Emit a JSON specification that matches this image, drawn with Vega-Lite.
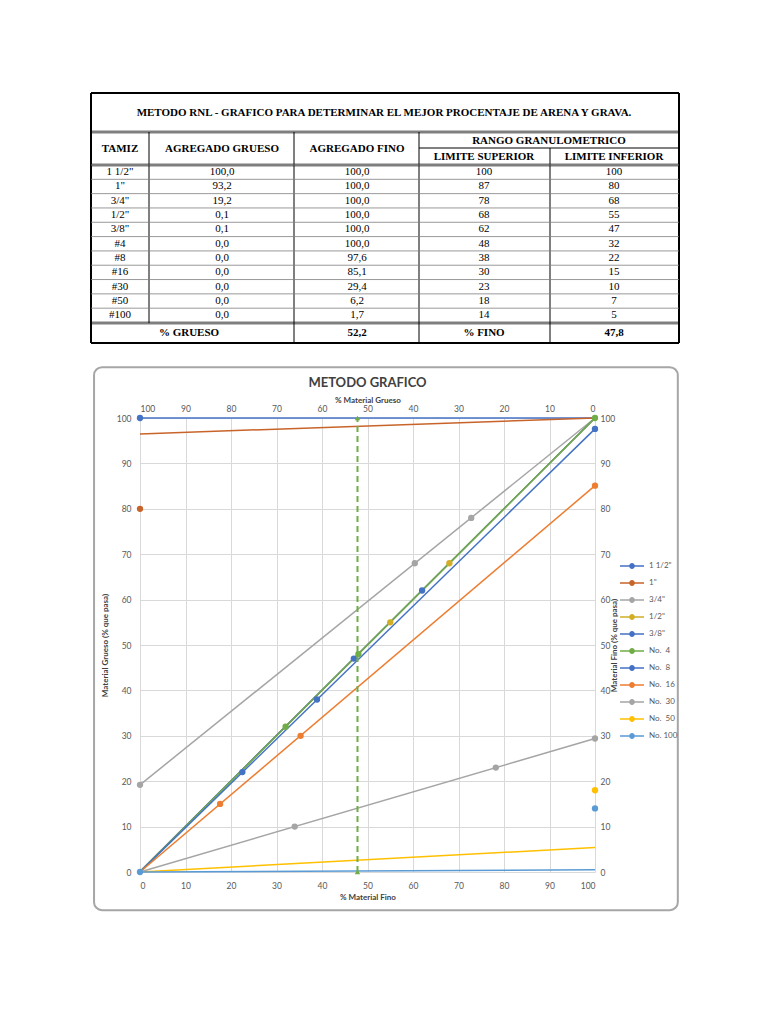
{
  "$schema": "https://vega.github.io/schema/vega-lite/v6.json",
  "background": "white",
  "padding": {"left": 89, "top": 92, "right": 5, "bottom": 5},
  "bounds": "flush",
  "spacing": 75,
  "datasets": {
    "tabla": [
      {"tamiz": "1 1/2\"", "grueso": 100.0, "fino": 100.0, "sup": 100, "inf": 100},
      {"tamiz": "1\"", "grueso": 93.2, "fino": 100.0, "sup": 87, "inf": 80},
      {"tamiz": "3/4\"", "grueso": 19.2, "fino": 100.0, "sup": 78, "inf": 68},
      {"tamiz": "1/2\"", "grueso": 0.1, "fino": 100.0, "sup": 68, "inf": 55},
      {"tamiz": "3/8\"", "grueso": 0.1, "fino": 100.0, "sup": 62, "inf": 47},
      {"tamiz": "#4", "grueso": 0.0, "fino": 100.0, "sup": 48, "inf": 32},
      {"tamiz": "#8", "grueso": 0.0, "fino": 97.6, "sup": 38, "inf": 22},
      {"tamiz": "#16", "grueso": 0.0, "fino": 85.1, "sup": 30, "inf": 15},
      {"tamiz": "#30", "grueso": 0.0, "fino": 29.4, "sup": 23, "inf": 10},
      {"tamiz": "#50", "grueso": 0.0, "fino": 6.2, "sup": 18, "inf": 7},
      {"tamiz": "#100", "grueso": 0.0, "fino": 1.7, "sup": 14, "inf": 5}
    ],
    "resultado": [{"grueso": 52.2, "fino": 47.8}],
    "rectas": [
      {"serie": "1 1/2\"", "fino": 0, "pasa": 100}, {"serie": "1 1/2\"", "fino": 100, "pasa": 100},
      {"serie": "1\"", "fino": 0, "pasa": 96.5}, {"serie": "1\"", "fino": 100, "pasa": 100},
      {"serie": "3/4\"", "fino": 0, "pasa": 19.2}, {"serie": "3/4\"", "fino": 100, "pasa": 100},
      {"serie": "1/2\"", "fino": 0, "pasa": 0.1}, {"serie": "1/2\"", "fino": 100, "pasa": 100},
      {"serie": "3/8\"", "fino": 0, "pasa": 0.1}, {"serie": "3/8\"", "fino": 100, "pasa": 100},
      {"serie": "No.\u00a0\u00a04", "fino": 0, "pasa": 0}, {"serie": "No.\u00a0\u00a04", "fino": 100, "pasa": 100},
      {"serie": "No.\u00a0\u00a08", "fino": 0, "pasa": 0}, {"serie": "No.\u00a0\u00a08", "fino": 100, "pasa": 97.6},
      {"serie": "No.\u00a0\u00a016", "fino": 0, "pasa": 0}, {"serie": "No.\u00a0\u00a016", "fino": 100, "pasa": 85.1},
      {"serie": "No.\u00a0\u00a030", "fino": 0, "pasa": 0}, {"serie": "No.\u00a0\u00a030", "fino": 100, "pasa": 29.4},
      {"serie": "No.\u00a0\u00a050", "fino": 0, "pasa": 0}, {"serie": "No.\u00a0\u00a050", "fino": 100, "pasa": 5.4},
      {"serie": "No.\u00a0100", "fino": 0, "pasa": 0}, {"serie": "No.\u00a0100", "fino": 100, "pasa": 0.5}
    ],
    "puntos": [
      {"serie": "1 1/2\"", "fino": 0, "pasa": 100},
      {"serie": "1\"", "fino": 0, "pasa": 80},
      {"serie": "3/4\"", "fino": 0, "pasa": 19.2},
      {"serie": "3/4\"", "fino": 72.8, "pasa": 78},
      {"serie": "3/4\"", "fino": 60.4, "pasa": 68},
      {"serie": "1/2\"", "fino": 68.0, "pasa": 68},
      {"serie": "1/2\"", "fino": 55.0, "pasa": 55},
      {"serie": "3/8\"", "fino": 62.0, "pasa": 62},
      {"serie": "3/8\"", "fino": 47.0, "pasa": 47},
      {"serie": "No.\u00a0\u00a04", "fino": 48, "pasa": 48},
      {"serie": "No.\u00a0\u00a04", "fino": 32, "pasa": 32},
      {"serie": "No.\u00a0\u00a04", "fino": 100, "pasa": 100},
      {"serie": "No.\u00a0\u00a08", "fino": 38.9, "pasa": 38},
      {"serie": "No.\u00a0\u00a08", "fino": 22.5, "pasa": 22},
      {"serie": "No.\u00a0\u00a08", "fino": 100, "pasa": 97.6},
      {"serie": "No.\u00a0\u00a016", "fino": 35.3, "pasa": 30},
      {"serie": "No.\u00a0\u00a016", "fino": 17.6, "pasa": 15},
      {"serie": "No.\u00a0\u00a016", "fino": 100, "pasa": 85.1},
      {"serie": "No.\u00a0\u00a030", "fino": 78.2, "pasa": 23},
      {"serie": "No.\u00a0\u00a030", "fino": 34.0, "pasa": 10},
      {"serie": "No.\u00a0\u00a030", "fino": 100, "pasa": 29.4},
      {"serie": "No.\u00a0\u00a050", "fino": 100, "pasa": 18},
      {"serie": "No.\u00a0100", "fino": 100, "pasa": 14},
      {"serie": "No.\u00a0100", "fino": 0, "pasa": 0}
    ]
  },
  "vconcat": [
    {
      "width": 455,
      "height": 250,
      "layer": [
        {
          "data": {"values": [{}]},
          "layer": [
            {"mark": {"type": "rule", "color": "#000000", "strokeWidth": 2},
             "encoding": {"x": {"datum": 0, "type": "quantitative", "scale": {"domain": [0, 588], "range": [-49, 539], "nice": false, "zero": false}, "axis": null},
                          "x2": {"datum": 588},
                          "y": {"datum": 0, "type": "quantitative", "scale": {"domain": [0, 250], "range": [0, 250], "nice": false, "zero": false}, "axis": null}}},
            {"mark": {"type": "rule", "color": "#7F7F7F", "strokeWidth": 3},
             "encoding": {"x": {"datum": 0}, "x2": {"datum": 588}, "y": {"datum": 39}}},
            {"mark": {"type": "rule", "color": "#000000", "strokeWidth": 1},
             "encoding": {"x": {"datum": 328}, "x2": {"datum": 588}, "y": {"datum": 55}}},
            {"mark": {"type": "rule", "color": "#7F7F7F", "strokeWidth": 3},
             "encoding": {"x": {"datum": 0}, "x2": {"datum": 588}, "y": {"datum": 72}}},
            {"mark": {"type": "rule", "color": "#7F7F7F", "strokeWidth": 3},
             "encoding": {"x": {"datum": 0}, "x2": {"datum": 588}, "y": {"datum": 230}}},
            {"mark": {"type": "rule", "color": "#000000", "strokeWidth": 2},
             "encoding": {"x": {"datum": 0}, "x2": {"datum": 588}, "y": {"datum": 250}}},
            {"mark": {"type": "rule", "color": "#000000", "strokeWidth": 2},
             "encoding": {"x": {"datum": 0}, "y": {"datum": 0}, "y2": {"datum": 250}}},
            {"mark": {"type": "rule", "color": "#000000", "strokeWidth": 2},
             "encoding": {"x": {"datum": 588}, "y": {"datum": 0}, "y2": {"datum": 250}}},
            {"mark": {"type": "rule", "color": "#000000", "strokeWidth": 1},
             "encoding": {"x": {"datum": 58}, "y": {"datum": 39}, "y2": {"datum": 230}}},
            {"mark": {"type": "rule", "color": "#000000", "strokeWidth": 1},
             "encoding": {"x": {"datum": 203}, "y": {"datum": 39}, "y2": {"datum": 250}}},
            {"mark": {"type": "rule", "color": "#000000", "strokeWidth": 1},
             "encoding": {"x": {"datum": 328}, "y": {"datum": 39}, "y2": {"datum": 250}}},
            {"mark": {"type": "rule", "color": "#000000", "strokeWidth": 1},
             "encoding": {"x": {"datum": 459}, "y": {"datum": 55}, "y2": {"datum": 250}}},
            {"mark": {"type": "text", "text": "METODO RNL - GRAFICO PARA DETERMINAR EL MEJOR PROCENTAJE DE ARENA Y GRAVA.", "font": "Liberation Serif", "fontWeight": "bold", "fontSize": 11, "baseline": "middle", "align": "center"},
             "encoding": {"x": {"datum": 293}, "y": {"datum": 20}}},
            {"mark": {"type": "text", "text": "TAMIZ", "font": "Liberation Serif", "fontWeight": "bold", "fontSize": 11, "baseline": "middle", "align": "center"},
             "encoding": {"x": {"datum": 29}, "y": {"datum": 56}}},
            {"mark": {"type": "text", "text": "AGREGADO GRUESO", "font": "Liberation Serif", "fontWeight": "bold", "fontSize": 11, "baseline": "middle", "align": "center"},
             "encoding": {"x": {"datum": 131}, "y": {"datum": 56}}},
            {"mark": {"type": "text", "text": "AGREGADO FINO", "font": "Liberation Serif", "fontWeight": "bold", "fontSize": 11, "baseline": "middle", "align": "center"},
             "encoding": {"x": {"datum": 266}, "y": {"datum": 56}}},
            {"mark": {"type": "text", "text": "RANGO GRANULOMETRICO", "font": "Liberation Serif", "fontWeight": "bold", "fontSize": 11, "baseline": "middle", "align": "center"},
             "encoding": {"x": {"datum": 458}, "y": {"datum": 48}}},
            {"mark": {"type": "text", "text": "LIMITE SUPERIOR", "font": "Liberation Serif", "fontWeight": "bold", "fontSize": 11, "baseline": "middle", "align": "center"},
             "encoding": {"x": {"datum": 393}, "y": {"datum": 64}}},
            {"mark": {"type": "text", "text": "LIMITE INFERIOR", "font": "Liberation Serif", "fontWeight": "bold", "fontSize": 11, "baseline": "middle", "align": "center"},
             "encoding": {"x": {"datum": 523}, "y": {"datum": 64}}},
            {"mark": {"type": "text", "text": "% GRUESO", "font": "Liberation Serif", "fontWeight": "bold", "fontSize": 11, "baseline": "middle", "align": "center"},
             "encoding": {"x": {"datum": 98}, "y": {"datum": 240}}},
            {"mark": {"type": "text", "text": "% FINO", "font": "Liberation Serif", "fontWeight": "bold", "fontSize": 11, "baseline": "middle", "align": "center"},
             "encoding": {"x": {"datum": 393}, "y": {"datum": 240}}},
            {"data": {"name": "resultado"},
             "mark": {"type": "text", "font": "Liberation Serif", "fontWeight": "bold", "fontSize": 11, "baseline": "middle", "align": "center"},
             "encoding": {"x": {"datum": 266}, "y": {"datum": 240}, "text": {"field": "grueso", "type": "quantitative", "format": ".1f"}}},
            {"data": {"name": "resultado"},
             "mark": {"type": "text", "font": "Liberation Serif", "fontWeight": "bold", "fontSize": 11, "baseline": "middle", "align": "center"},
             "encoding": {"x": {"datum": 523}, "y": {"datum": 240}, "text": {"field": "fino", "type": "quantitative", "format": ".1f"}}}
          ]
        },
        {
          "data": {"name": "tabla"},
          "encoding": {
            "y": {"field": "tamiz", "type": "ordinal", "axis": null,
                  "scale": {"type": "band", "domain": ["1 1/2\"", "1\"", "3/4\"", "1/2\"", "3/8\"", "#4", "#8", "#16", "#30", "#50", "#100"], "range": [72, 229.5], "paddingInner": 0, "paddingOuter": 0}}
          },
          "layer": [
            {"mark": {"type": "rule", "color": "#7F7F7F", "strokeWidth": 0.8},
             "encoding": {"y": {"field": "tamiz", "type": "ordinal", "bandPosition": 0}, "x": {"datum": 0}, "x2": {"datum": 588}}},
            {"mark": {"type": "text", "font": "Liberation Serif", "fontSize": 11, "baseline": "middle", "align": "center"},
             "encoding": {"y": {"field": "tamiz", "type": "ordinal", "bandPosition": 0.5}, "x": {"datum": 29}, "text": {"field": "tamiz"}}},
            {"mark": {"type": "text", "font": "Liberation Serif", "fontSize": 11, "baseline": "middle", "align": "center"},
             "encoding": {"y": {"field": "tamiz", "type": "ordinal", "bandPosition": 0.5}, "x": {"datum": 131}, "text": {"field": "grueso", "type": "quantitative", "format": ".1f"}}},
            {"mark": {"type": "text", "font": "Liberation Serif", "fontSize": 11, "baseline": "middle", "align": "center"},
             "encoding": {"y": {"field": "tamiz", "type": "ordinal", "bandPosition": 0.5}, "x": {"datum": 266}, "text": {"field": "fino", "type": "quantitative", "format": ".1f"}}},
            {"mark": {"type": "text", "font": "Liberation Serif", "fontSize": 11, "baseline": "middle", "align": "center"},
             "encoding": {"y": {"field": "tamiz", "type": "ordinal", "bandPosition": 0.5}, "x": {"datum": 393}, "text": {"field": "sup", "type": "quantitative", "format": "d"}}},
            {"mark": {"type": "text", "font": "Liberation Serif", "fontSize": 11, "baseline": "middle", "align": "center"},
             "encoding": {"y": {"field": "tamiz", "type": "ordinal", "bandPosition": 0.5}, "x": {"datum": 523}, "text": {"field": "inf", "type": "quantitative", "format": "d"}}}
          ]
        }
      ],
      "resolve": {"scale": {"y": "independent"}}
    },
    {
      "width": 455,
      "height": 454,
      "title": {"text": "METODO GRAFICO", "font": "Lato", "fontSize": 13, "fontWeight": "bold", "color": "#404040", "offset": -24, "anchor": "middle"},
      "layer": [
        {
          "layer": [
            {"data": {"values": [{}]},
             "mark": {"type": "rect", "filled": false, "stroke": "#A6A6A6", "strokeWidth": 2, "cornerRadius": 8, "clip": false},
             "encoding": {"x": {"datum": -10.1, "type": "quantitative"}, "x2": {"datum": 118.2}, "y": {"datum": 111.2, "type": "quantitative"}, "y2": {"datum": -8.4}}},
            {"data": {"name": "rectas"},
             "mark": {"type": "line", "strokeWidth": 1.5},
             "encoding": {
               "x": {"field": "fino", "type": "quantitative", "scale": {"domain": [0, 100], "nice": false},
                     "axis": {"orient": "bottom", "title": "% Material Fino", "values": [0, 10, 20, 30, 40, 50, 60, 70, 80, 90, 100], "grid": true, "labelPadding": 9, "titlePadding": 4}},
               "y": {"field": "pasa", "type": "quantitative", "scale": {"domain": [0, 100], "nice": false},
                     "axis": {"orient": "left", "title": "Material Grueso (% que pasa)", "values": [0, 10, 20, 30, 40, 50, 60, 70, 80, 90, 100], "grid": true, "labelPadding": 9, "titlePadding": 7}},
               "color": {"field": "serie", "type": "nominal",
                         "scale": {"domain": ["1 1/2\"", "1\"", "3/4\"", "1/2\"", "3/8\"", "No.\u00a0\u00a04", "No.\u00a0\u00a08", "No.\u00a0\u00a016", "No.\u00a0\u00a030", "No.\u00a0\u00a050", "No.\u00a0100"],
                                   "range": ["#4472C4", "#C8642A", "#A5A5A5", "#D1AE25", "#4472C4", "#70AD47", "#4472C4", "#ED7D31", "#A5A5A5", "#FFC000", "#5B9BD5"]},
                         "legend": {"orient": "none", "legendX": 483, "legendY": 464, "title": null, "labelFont": "Lato", "labelFontSize": 8, "labelColor": "#595959",
                                    "symbolType": "M-1.5,0L1.5,0M-0.27,0A0.27,0.27,0,1,1,0.27,0A0.27,0.27,0,1,1,-0.27,0", "symbolSize": 256, "symbolStrokeWidth": 1.5, "rowPadding": 2, "labelOffset": 8}}
             }},
            {"data": {"name": "puntos"},
             "mark": {"type": "point", "filled": true, "size": 40, "opacity": 1},
             "encoding": {
               "x": {"field": "fino", "type": "quantitative"},
               "y": {"field": "pasa", "type": "quantitative"},
               "color": {"field": "serie", "type": "nominal"}
             }}
          ]
        },
        {
          "data": {"name": "resultado"},
          "layer": [
            {"mark": {"type": "rule", "color": "#70AD47", "strokeWidth": 2, "strokeDash": [6, 4]},
             "encoding": {
               "x": {"field": "grueso", "type": "quantitative", "scale": {"domain": [0, 100], "reverse": true, "nice": false},
                     "axis": {"orient": "top", "title": "% Material Grueso", "values": [0, 10, 20, 30, 40, 50, 60, 70, 80, 90, 100], "grid": false, "labelPadding": 5, "titlePadding": 0}},
               "y": {"datum": 0, "type": "quantitative", "scale": {"domain": [0, 100], "nice": false},
                     "axis": {"orient": "right", "title": "Material Fino (% que pasa)", "titleAngle": 270, "titleBaseline": "top", "values": [0, 10, 20, 30, 40, 50, 60, 70, 80, 90, 100], "grid": false, "labelPadding": 5, "titlePadding": -4}},
               "y2": {"datum": 100}
             }},
            {"mark": {"type": "point", "shape": "triangle-up", "filled": true, "size": 30, "color": "#70AD47", "opacity": 1},
             "encoding": {"x": {"field": "grueso", "type": "quantitative"}, "y": {"datum": 0, "type": "quantitative"}}},
            {"mark": {"type": "point", "shape": "triangle-up", "filled": true, "size": 30, "color": "#70AD47", "opacity": 1},
             "encoding": {"x": {"field": "grueso", "type": "quantitative"}, "y": {"datum": 100, "type": "quantitative"}}}
          ]
        }
      ],
      "resolve": {"scale": {"x": "independent", "y": "independent"}}
    }
  ],
  "config": {
    "locale": {"number": {"decimal": ",", "thousands": ".", "grouping": [3], "currency": ["", " €"]}},
    "view": {"stroke": null},
    "axis": {"domain": false, "ticks": false, "labelFont": "Lato", "labelFontSize": 8.5, "labelColor": "#595959", "titleFont": "Lato", "titleFontSize": 8, "titleFontWeight": "bold", "titleColor": "#404040", "gridColor": "#D9D9D9", "gridWidth": 1}
  }
}
